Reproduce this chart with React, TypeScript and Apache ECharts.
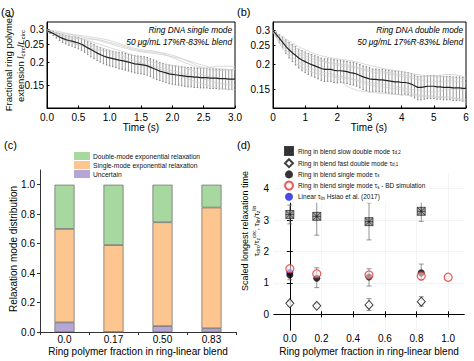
import React, { useEffect, useRef } from 'react';
import * as echarts from 'echarts';

const FONT = '"Liberation Sans", Arial, Helvetica, sans-serif';

// ---------- panel (a): ring DNA single mode ----------
const dtA = 0.05;
const meanA = [
  0.296, 0.291, 0.286, 0.280, 0.274, 0.269, 0.265, 0.262, 0.260, 0.257, 0.254, 0.250, 0.245, 0.239, 0.234, 0.229, 0.224, 0.220, 0.216, 0.213, 0.211,
  0.209, 0.207, 0.205, 0.204, 0.202, 0.200, 0.198, 0.196, 0.195, 0.194,
  0.193, 0.191, 0.188, 0.185, 0.182, 0.179, 0.177, 0.175, 0.173, 0.172,
  0.171, 0.170, 0.169, 0.168, 0.167, 0.167, 0.166, 0.166, 0.165, 0.165,
  0.165, 0.164, 0.164, 0.164, 0.163, 0.163, 0.163, 0.162, 0.162, 0.162,
];
const errA = [
  0.002, 0.005, 0.008, 0.010, 0.012, 0.013, 0.014, 0.015, 0.016, 0.017, 0.018, 0.018, 0.019, 0.019, 0.020, 0.020, 0.020, 0.020, 0.020, 0.020, 0.020,
  0.020, 0.020, 0.021, 0.021, 0.021, 0.021, 0.021, 0.021, 0.021, 0.021,
  0.021, 0.021, 0.021, 0.021, 0.021, 0.020, 0.020, 0.020, 0.020, 0.020,
  0.020, 0.020, 0.020, 0.020, 0.020, 0.020, 0.020, 0.020, 0.020, 0.020,
  0.020, 0.020, 0.020, 0.020, 0.020, 0.020, 0.020, 0.020, 0.020, 0.020,
];
const traceStepA = 0.25;
const tracesA = [
  [0.300, 0.290, 0.276, 0.266, 0.252, 0.238, 0.228, 0.222, 0.214, 0.204, 0.192, 0.184, 0.182],
  [0.296, 0.276, 0.254, 0.244, 0.232, 0.214, 0.198, 0.190, 0.180, 0.170, 0.162, 0.154, 0.150],
  [0.292, 0.278, 0.268, 0.266, 0.256, 0.242, 0.230, 0.226, 0.218, 0.202, 0.186, 0.180, 0.184],
  [0.295, 0.282, 0.270, 0.256, 0.240, 0.226, 0.210, 0.198, 0.192, 0.184, 0.170, 0.164, 0.160],
  [0.298, 0.266, 0.248, 0.236, 0.226, 0.206, 0.192, 0.186, 0.174, 0.162, 0.152, 0.145, 0.142],
  [0.294, 0.286, 0.280, 0.272, 0.262, 0.246, 0.234, 0.228, 0.212, 0.196, 0.186, 0.190, 0.190],
];
const yTicksA = [0.15, 0.2, 0.25, 0.3];

// ---------- panel (b): ring DNA double mode ----------
const dtB = 0.1;
const meanB = [
  0.298, 0.285, 0.272, 0.260, 0.248, 0.238, 0.230, 0.223, 0.216, 0.211, 0.207,
  0.203, 0.200, 0.197, 0.194, 0.191, 0.189, 0.189, 0.189, 0.187, 0.186,
  0.186, 0.185, 0.184, 0.182, 0.181, 0.179, 0.176, 0.173, 0.171, 0.169,
  0.168, 0.168, 0.167, 0.167, 0.166, 0.165, 0.164, 0.163, 0.163, 0.162,
  0.162, 0.161, 0.159, 0.156, 0.153, 0.153, 0.154, 0.155, 0.155, 0.155,
  0.154, 0.154, 0.153, 0.153, 0.153, 0.152, 0.152, 0.152, 0.151, 0.151,
];
const errB = [
  0.003, 0.008, 0.013, 0.017, 0.020, 0.022, 0.023, 0.024, 0.024, 0.025, 0.025,
  0.025, 0.025, 0.025, 0.025, 0.025, 0.025, 0.025, 0.025, 0.025, 0.025,
  0.024, 0.024, 0.024, 0.024, 0.024, 0.024, 0.024, 0.024, 0.024, 0.024,
  0.022, 0.022, 0.022, 0.022, 0.022, 0.022, 0.022, 0.022, 0.022, 0.022,
  0.021, 0.021, 0.021, 0.021, 0.021, 0.021, 0.021, 0.021, 0.021, 0.021,
  0.021, 0.021, 0.021, 0.021, 0.021, 0.021, 0.021, 0.021, 0.021, 0.021,
];
const traceStepB = 0.5;
const tracesB = [
  [0.300, 0.250, 0.222, 0.208, 0.202, 0.196, 0.184, 0.180, 0.174, 0.168, 0.163, 0.165, 0.160],
  [0.296, 0.228, 0.198, 0.184, 0.176, 0.168, 0.158, 0.153, 0.148, 0.140, 0.138, 0.136, 0.132],
  [0.298, 0.264, 0.238, 0.222, 0.214, 0.208, 0.198, 0.190, 0.184, 0.178, 0.174, 0.172, 0.168],
  [0.294, 0.220, 0.190, 0.178, 0.172, 0.168, 0.162, 0.158, 0.152, 0.148, 0.145, 0.150, 0.148],
  [0.300, 0.245, 0.215, 0.198, 0.170, 0.150, 0.145, 0.142, 0.140, 0.138, 0.136, 0.135, 0.128],
  [0.297, 0.256, 0.230, 0.212, 0.198, 0.193, 0.188, 0.183, 0.178, 0.173, 0.175, 0.178, 0.172],
];
const yTicksB = [0.15, 0.2, 0.25, 0.3];

// ---------- panel (c): relaxation mode distribution ----------
const catsC = ['0.0', '0.17', '0.50', '0.83'];
const uncertainC = [0.065, 0, 0.04, 0.025];
const singleC = [0.635, 0.59, 0.705, 0.82];
const doubleC = [0.30, 0.41, 0.255, 0.155];
const yTicksC = [0, 0.2, 0.4, 0.6, 0.8, 1.0];

// ---------- panel (d): scaled relaxation times ----------
const fracD = [0, 0.17, 0.5, 0.83];
const slowD = [3.18, 3.12, 2.95, 3.28];
const slowLo = [2.88, 2.52, 2.37, 2.96];
const slowHi = [3.48, 3.72, 3.55, 3.60];
const fastD = [0.35, 0.27, 0.30, 0.40];
const fastLo = [0.27, 0.20, 0.12, 0.26];
const fastHi = [0.43, 0.34, 0.50, 0.56];
const singleD = [1.25, 1.15, 1.19, 1.32];
const singleLo = [1.10, 0.85, 0.90, 1.10];
const singleHi = [1.40, 1.48, 1.45, 1.60];
const fracBD = [0, 0.17, 0.5, 0.83, 1.0];
const bdD = [1.45, 1.29, 1.25, 1.22, 1.18];
const fracLin = [0];
const linD = [1.33];
const xTicksD = [0, 0.2, 0.4, 0.6, 0.8, 1.0];
const yTicksD = [0, 1, 2, 3, 4];

const GREEN = '#a6d8a0';
const ORANGE = '#fdc590';
const PURPLE = '#b5a6d6';

const L = (v: number) => Math.log10(v);
const fmtLog = (v: number) => String(Math.round(Math.pow(10, v) * 100) / 100);

const NAME_SLOW = 'Ring in blend slow double mode';
const NAME_FAST = 'Ring in blend fast double mode';
const NAME_SINGLE = 'Ring in blend single mode';
const NAME_BD = 'Ring in blend single mode - BD simulation';
const NAME_LIN = 'Linear Hsiao et al. (2017)';
const LEGEND_D: Record<string, string> = {
  [NAME_SLOW]: '{n|Ring in blend slow double mode τ}{s|d,2}',
  [NAME_FAST]: '{n|Ring in blend fast double mode τ}{s|d,1}',
  [NAME_SINGLE]: '{n|Ring in blend single mode τ}{s|s}',
  [NAME_BD]: '{n|Ring in blend single mode τ}{s|s}{n| - BD simulation}',
  [NAME_LIN]: '{n|Linear τ}{s|lin}{n| Hsiao et al. (2017)}',
};

const errRender = (color: string, cap: number, width: number) => (params: any, api: any) => {
  const x = api.value(0);
  const p1 = api.coord([x, api.value(1)]);
  const p2 = api.coord([x, api.value(2)]);
  const style = { stroke: color, lineWidth: width };
  return {
    type: 'group',
    children: [
      { type: 'line', shape: { x1: p1[0], y1: p1[1], x2: p2[0], y2: p2[1] }, style },
      { type: 'line', shape: { x1: p1[0] - cap, y1: p1[1], x2: p1[0] + cap, y2: p1[1] }, style },
      { type: 'line', shape: { x1: p2[0] - cap, y1: p2[1], x2: p2[0] + cap, y2: p2[1] }, style },
    ],
  };
};

const lbl = { color: '#000', fontSize: 10, fontFamily: FONT };
const blackLine = { show: true, lineStyle: { color: '#000', width: 1 } };

function text(x: number, y: number, t: string, opts: any = {}) {
  const { rotation, rich, align = 'center', fontSize = 10, fontStyle = 'normal' } = opts;
  return {
    type: 'text',
    x,
    y,
    rotation: rotation || 0,
    silent: true,
    style: {
      text: t,
      x: 0,
      y: 0,
      fill: '#000',
      fontSize,
      fontFamily: FONT,
      fontStyle,
      align,
      textAlign: align,
      verticalAlign: 'middle',
      textVerticalAlign: 'middle',
      rich,
    },
  };
}

function buildOption() {
  const series: any[] = [];
  // panel a
  tracesA.forEach((tr, k) =>
    series.push({
      name: 'trA' + k, type: 'line', xAxisIndex: 0, yAxisIndex: 0, smooth: true, symbol: 'none',
      lineStyle: { color: '#cfcfcf', width: 0.8 }, silent: true,
      data: tr.map((v, i) => [i * traceStepA, L(v)]),
    })
  );
  series.push({
    name: 'errA', type: 'custom', xAxisIndex: 0, yAxisIndex: 0, clip: true,
    renderItem: errRender('#555', 0.8, 0.6),
    encode: { x: 0, y: [1, 2] },
    data: meanA.map((m, i) => [i * dtA, L(m - errA[i]), L(m + errA[i])]),
  });
  series.push({
    name: 'meanA', type: 'line', xAxisIndex: 0, yAxisIndex: 0, symbol: 'none',
    lineStyle: { color: '#222', width: 1.2 },
    data: meanA.map((m, i) => [i * dtA, L(m)]),
  });
  // panel b
  tracesB.forEach((tr, k) =>
    series.push({
      name: 'trB' + k, type: 'line', xAxisIndex: 1, yAxisIndex: 1, smooth: true, symbol: 'none',
      lineStyle: { color: '#cfcfcf', width: 0.8 }, silent: true,
      data: tr.map((v, i) => [i * traceStepB, L(v)]),
    })
  );
  series.push({
    name: 'errB', type: 'custom', xAxisIndex: 1, yAxisIndex: 1, clip: true,
    renderItem: errRender('#555', 0.8, 0.6),
    encode: { x: 0, y: [1, 2] },
    data: meanB.map((m, i) => [i * dtB, L(m - errB[i]), L(m + errB[i])]),
  });
  series.push({
    name: 'meanB', type: 'line', xAxisIndex: 1, yAxisIndex: 1, symbol: 'none',
    lineStyle: { color: '#222', width: 1.2 },
    data: meanB.map((m, i) => [i * dtB, L(m)]),
  });
  // panel c
  const barCommon = { type: 'bar', xAxisIndex: 2, yAxisIndex: 2, stack: 'c', barWidth: 20 };
  series.push({ ...barCommon, name: 'Uncertain', data: uncertainC, itemStyle: { color: PURPLE, borderColor: '#666', borderWidth: 0.7 } });
  series.push({ ...barCommon, name: 'Single-mode exponential relaxation', data: singleC, itemStyle: { color: ORANGE, borderColor: '#666', borderWidth: 0.7 } });
  series.push({ ...barCommon, name: 'Double-mode exponential relaxation', data: doubleC, itemStyle: { color: GREEN, borderColor: '#666', borderWidth: 0.7 } });
  // panel d
  const errD = (name: string, xs: number[], lo: number[], hi: number[]) => ({
    name, type: 'custom', xAxisIndex: 3, yAxisIndex: 3, renderItem: errRender('#777', 2.5, 0.8),
    encode: { x: 0, y: [1, 2] }, data: xs.map((x, i) => [x, lo[i], hi[i]]), z: 1,
  });
  series.push(errD('errSlow', fracD, slowLo, slowHi));
  series.push(errD('errFast', fracD, fastLo, fastHi));
  series.push(errD('errSingle', fracD, singleLo, singleHi));
  series.push({
    name: NAME_LIN, type: 'scatter', xAxisIndex: 3, yAxisIndex: 3, symbol: 'circle', symbolSize: 7, z: 2,
    itemStyle: { color: '#1a1ae0' }, data: fracLin.map((x, i) => [x, linD[i]]),
  });
  series.push({
    name: NAME_SINGLE, type: 'scatter', xAxisIndex: 3, yAxisIndex: 3, symbol: 'circle', symbolSize: 7, z: 3,
    itemStyle: { color: '#000' }, data: fracD.map((x, i) => [x, singleD[i]]),
  });
  series.push({
    name: NAME_BD, type: 'scatter', xAxisIndex: 3, yAxisIndex: 3, symbol: 'circle', symbolSize: 8, z: 4,
    itemStyle: { color: 'rgba(255,235,235,0.7)', borderColor: '#e03535', borderWidth: 1.2 },
    data: fracBD.map((x, i) => [x, bdD[i]]),
  });
  series.push({
    name: NAME_SLOW, type: 'scatter', xAxisIndex: 3, yAxisIndex: 3, z: 4,
    symbol: 'path://M0,0L10,0L10,10L0,10Z M0,0L10,10 M10,0L0,10 M5,0L5,10 M0,5L10,5', symbolSize: 8,
    itemStyle: { color: '#9a9a9a', borderColor: '#111', borderWidth: 0.8 },
    data: fracD.map((x, i) => [x, slowD[i]]),
  });
  series.push({
    name: NAME_FAST, type: 'scatter', xAxisIndex: 3, yAxisIndex: 3, symbol: 'diamond', symbolSize: [8, 9], z: 4,
    itemStyle: { color: '#fff', borderColor: '#111', borderWidth: 1 },
    data: fracD.map((x, i) => [x, fastD[i]]),
  });

  const noSplit = { show: false };

  const xAxis: any[] = [
    {
      gridIndex: 0, type: 'value', min: 0, max: 3, interval: 0.5, axisLine: blackLine,
      axisTick: { show: true, inside: true, length: 2.5, lineStyle: { color: '#000' } },
      axisLabel: { ...lbl, margin: 4, formatter: (v: number) => v.toFixed(1) }, splitLine: noSplit,
    },
    {
      gridIndex: 1, type: 'value', min: 0, max: 6, interval: 1, axisLine: blackLine,
      axisTick: { show: true, inside: true, length: 2.5, lineStyle: { color: '#000' } },
      axisLabel: { ...lbl, margin: 4, formatter: (v: number) => String(v) }, splitLine: noSplit,
    },
    {
      gridIndex: 2, type: 'category', data: catsC, axisLine: { show: true, lineStyle: { color: '#333', width: 1 } },
      axisTick: { show: true, length: 3, lineStyle: { color: '#333' } },
      axisLabel: { ...lbl, margin: 2 }, splitLine: noSplit,
    },
    {
      gridIndex: 3, type: 'value', min: -0.1, max: 1.1, axisLine: blackLine,
      axisTick: { show: true, inside: true, length: 3, customValues: xTicksD, lineStyle: { color: '#000' } },
      axisLabel: { ...lbl, margin: 3, customValues: xTicksD, formatter: (v: number) => v.toFixed(1) },
      splitLine: { show: true, lineStyle: { color: '#ececec', width: 0.6 } },
    },
    {
      gridIndex: 3, type: 'value', position: 'top', min: -0.1, max: 1.1, axisLine: blackLine,
      axisTick: { show: true, inside: true, length: 3, customValues: xTicksD, lineStyle: { color: '#000' } },
      axisLabel: { show: false }, splitLine: noSplit,
    },
  ];
  const yAxis: any[] = [
    {
      gridIndex: 0, type: 'value', min: L(0.113), max: L(0.33), axisLine: blackLine,
      axisTick: { show: true, inside: true, length: 2.5, customValues: yTicksA.map(L), lineStyle: { color: '#000' } },
      axisLabel: { ...lbl, margin: 3, customValues: yTicksA.map(L), formatter: fmtLog }, splitLine: noSplit,
    },
    {
      gridIndex: 1, type: 'value', min: L(0.12), max: L(0.33), axisLine: blackLine,
      axisTick: { show: true, inside: true, length: 2.5, customValues: yTicksB.map(L), lineStyle: { color: '#000' } },
      axisLabel: { ...lbl, margin: 3, customValues: yTicksB.map(L), formatter: fmtLog }, splitLine: noSplit,
    },
    {
      gridIndex: 2, type: 'value', min: 0, max: 1.1, axisLine: { show: true, lineStyle: { color: '#333', width: 1 } },
      axisTick: { show: true, length: 3, customValues: yTicksC, lineStyle: { color: '#333' } },
      axisLabel: { ...lbl, margin: 5, customValues: yTicksC, formatter: (v: number) => v.toFixed(1) }, splitLine: noSplit,
    },
    {
      gridIndex: 3, type: 'value', min: -0.5, max: 4.5, axisLine: blackLine,
      axisTick: { show: true, inside: true, length: 3, customValues: yTicksD, lineStyle: { color: '#000' } },
      axisLabel: { ...lbl, margin: 5, customValues: yTicksD, formatter: (v: number) => String(v) },
      splitLine: { show: true, lineStyle: { color: '#ececec', width: 0.6 } },
    },
    {
      gridIndex: 3, type: 'value', position: 'right', min: -0.5, max: 4.5, axisLine: blackLine,
      axisTick: { show: true, inside: true, length: 3, customValues: yTicksD, lineStyle: { color: '#000' } },
      axisLabel: { show: false }, splitLine: noSplit,
    },
  ];

  const box = { show: true, borderColor: '#000', borderWidth: 1, backgroundColor: 'transparent' };
  const grid = [
    { ...box, left: 47, top: 22, width: 188, height: 86 },
    { ...box, left: 273, top: 22, width: 193, height: 86 },
    { left: 40, top: 170, width: 196, height: 162 },
    { left: 274, top: 173, width: 190, height: 157 },
  ];

  const sub = { fontSize: 6, fontFamily: FONT, padding: [5, 0, 0, 0] };
  const sup = { fontSize: 6, fontFamily: FONT, padding: [0, 0, 5, 0] };
  const graphic = [
    text(1, 12, '(a)', { align: 'left', fontSize: 11 }),
    text(237, 12, '(b)', { align: 'left', fontSize: 11 }),
    text(4, 145, '(c)', { align: 'left', fontSize: 11 }),
    text(237, 145, '(d)', { align: 'left', fontSize: 11 }),
    text(232, 30, 'Ring DNA single mode', { align: 'right', fontSize: 8.3, fontStyle: 'italic' }),
    text(232, 42, '50 μg/mL 17%R-83%L blend', { align: 'right', fontSize: 8.3, fontStyle: 'italic' }),
    text(463, 30, 'Ring DNA double mode', { align: 'right', fontSize: 8.3, fontStyle: 'italic' }),
    text(463, 42, '50 μg/mL 17%R-83%L blend', { align: 'right', fontSize: 8.3, fontStyle: 'italic' }),
    text(141, 127, 'Time (s)', { fontSize: 10 }),
    text(369, 127, 'Time (s)', { fontSize: 10 }),
    text(8, 63, 'Fractional ring polymer', { rotation: Math.PI / 2, fontSize: 9.5 }),
    text(20, 66, '{n|extension }{i|l}{s|circ}{n|/}{i|L}{s|circ}', {
      rotation: Math.PI / 2, fontSize: 9.5,
      rich: { n: { fontSize: 9.5, fontFamily: FONT }, i: { fontSize: 9.5, fontFamily: FONT, fontStyle: 'italic' }, s: sub },
    }),
    text(13, 249, 'Relaxation mode distribution', { rotation: Math.PI / 2, fontSize: 10 }),
    text(138, 351, 'Ring polymer fraction in ring-linear blend', { fontSize: 10 }),
    text(245, 231, 'Scaled longest relaxation time', { rotation: Math.PI / 2, fontSize: 9 }),
    text(256, 231, '{t|τ}{s|circ}{t|/τ}{s|z}{p|circ}{t|, τ}{s|lin}{t|/τ}{s|z}{p|lin}', {
      rotation: Math.PI / 2, fontSize: 7,
      rich: { t: { fontSize: 7.5, fontFamily: FONT }, s: { ...sub, fontSize: 5, padding: [4, 0, 0, 0] }, p: { ...sup, fontSize: 5, padding: [0, 0, 4, 0] } },
    }),
    text(369, 351, 'Ring polymer fraction in ring-linear blend', { fontSize: 10 }),
  ];

  const legend = [
    {
      orient: 'vertical', left: 74, top: 152, padding: 0, itemWidth: 16, itemHeight: 8, itemGap: 1,
      icon: 'rect', itemStyle: { borderWidth: 0 },
      data: ['Double-mode exponential relaxation', 'Single-mode exponential relaxation', 'Uncertain'],
      textStyle: { fontSize: 6.7, fontFamily: FONT, color: '#111', padding: [0, 0, 0, -2] },
      selectedMode: false,
    },
    {
      orient: 'vertical', left: 283, top: 144, padding: [2, 4, 2, 1], itemWidth: 8, itemHeight: 8, itemGap: 2.2,
      backgroundColor: '#fff',
      data: [NAME_SLOW, NAME_FAST, NAME_SINGLE, NAME_BD, NAME_LIN],
      formatter: (name: string) => LEGEND_D[name] || name,
      textStyle: {
        fontSize: 6.5, fontFamily: FONT, color: '#111',
        rich: { n: { fontSize: 6.5, fontFamily: FONT, color: '#111' }, s: { fontSize: 4.5, fontFamily: FONT, color: '#111', padding: [3, 0, 0, 0] } },
      },
      selectedMode: false,
    },
  ];

  return {
    animation: false,
    backgroundColor: '#fff',
    textStyle: { fontFamily: FONT },
    grid, xAxis, yAxis, series, legend, graphic,
  };
}

export default function App() {
  const ref = useRef<HTMLDivElement>(null);
  useEffect(() => {
    const chart = echarts.init(ref.current!, null, { renderer: 'svg' });
    chart.setOption(buildOption() as any);
    return () => chart.dispose();
  }, []);
  return (
    <div
      ref={ref}
      style={{ position: 'absolute', left: 0, top: 0, width: 474, height: 361, background: '#fff' }}
    />
  );
}
